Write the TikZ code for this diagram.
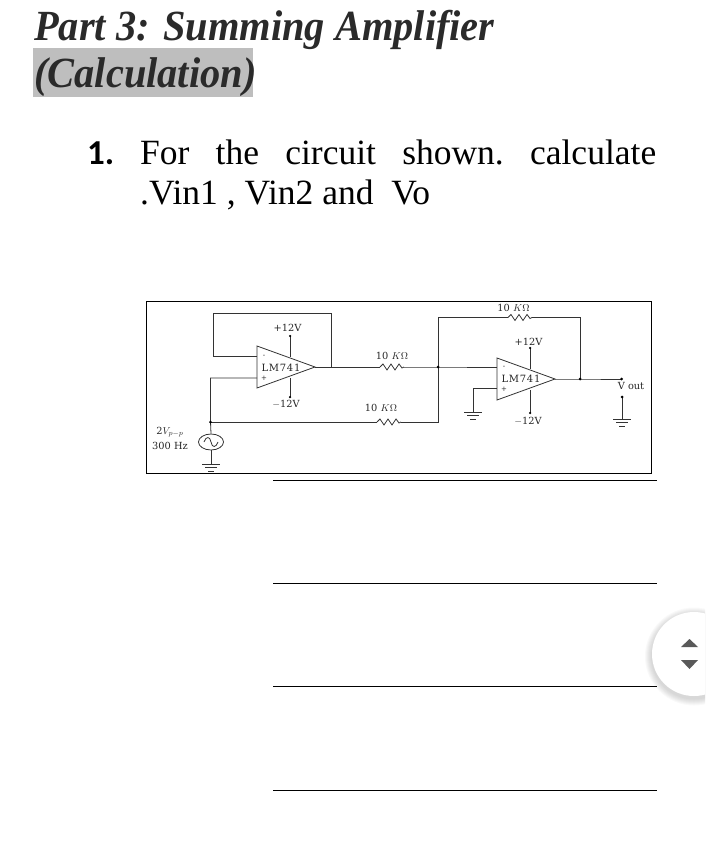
\documentclass[tikz,border=0pt]{standalone}
\usepackage{fontspec}
\setmainfont{Liberation Serif}
\newfontfamily\numfont{Carlito}
\newfontfamily\titlefont[FakeStretch=0.94]{Liberation Serif}
\newfontfamily\partfont{DejaVu Serif}
\newfontfamily\chipfont[LetterSpace=7]{DejaVu Serif}
\usetikzlibrary{shapes.geometric}
\definecolor{titlegray}{HTML}{2A2A2A}
\definecolor{markgray}{HTML}{BEBEBE}
\definecolor{wiregray}{HTML}{333333}
\tikzset{
  wire/.style={wiregray,line width=0.8pt},
  frame/.style={black,line width=1pt},
  rule/.style={black,line width=1pt},
  heading/.style={anchor=base west,inner sep=0pt,text=titlegray,font=\fontsize{43}{43}\selectfont\titlefont\bfseries\itshape},
  body/.style={anchor=base west,inner sep=0pt,font=\fontsize{35.5}{36}\selectfont},
  small/.style={inner sep=0pt,font=\fontsize{9.8}{10}\selectfont\partfont,text=black!85},
  chip/.style={inner sep=0pt,font=\fontsize{10}{10}\selectfont\chipfont,text=black!85},
  sign/.style={inner sep=0pt,font=\fontsize{7}{7}\selectfont\partfont,text=black!85},
  dot/.style={circle,fill=black,inner sep=0pt,minimum size=3pt},
  resistor/.pic={\draw[wire] (-12,0) -- (-9,-3) -- (-5,3) -- (-1,-3) -- (3,3) -- (7,-3) -- (10,1) -- (12,0);},
  earth/.pic={\draw[wire] (-9,0) -- (9,0) (-6,3.5) -- (6,3.5) (-3,7) -- (3,7);}
}
\begin{document}
\begin{tikzpicture}[x=1pt,y=-1pt]
\useasboundingbox (0,0) rectangle (705,851);
% heading
\fill[markgray] (33,48) rectangle (253,97);
\node[heading] (title1) at (34,41) {Part 3: Summing Amplifier};
\node[heading] (title2) at (34,87) {(Calculation)};
\node[anchor=base west,inner sep=0pt,font=\fontsize{35}{35}\selectfont\numfont\bfseries] (num) at (87,164) {1.};
\node[body] (line1) at (140,164) {\hbox to 516pt{For\hfill the\hfill circuit\hfill shown.\hfill calculate}};
\node[body] (line2) at (140,204) {.Vin1 , Vin2 and\ \ Vo};
% circuit frame
\draw[frame] (146,301) rectangle (651,473);
% first amplifier
\coordinate (a1top) at (257,346);
\coordinate (a1bot) at (257,388);
\coordinate (a1out) at (315,367);
\coordinate (a1minus) at (257,356);
\coordinate (a1plus) at (257,378);
\draw[wire] (a1top) -- (a1out) -- (a1bot) -- cycle;
\node[chip] (a1name) at (281,367.5) {LM741};
\node[sign] (a1m) at (264,356) {-};
\node[sign] (a1p) at (264,378) {+};
\coordinate (a1vp) at (290,336);
\coordinate (a1vpin) at (290,357);
\coordinate (a1vn) at (290,397);
\coordinate (a1vnin) at (290,378);
\draw[wire] (a1vp) -- (a1vpin);
\draw[wire] (a1vn) -- (a1vnin);
\node[dot,minimum size=2.5pt] at (a1vp) {};
\node[dot,minimum size=2.5pt] at (a1vn) {};
\node[small] (a1vptxt) at (287.5,328) {+12V};
\node[small] (a1vntxt) at (286,404) {$-$12V};
% second amplifier
\coordinate (a2top) at (497,358);
\coordinate (a2bot) at (497,400);
\coordinate (a2out) at (555,379);
\coordinate (a2minus) at (497,367);
\coordinate (a2plus) at (497,388);
\draw[wire] (a2top) -- (a2out) -- (a2bot) -- cycle;
\node[chip] (a2name) at (521,379) {LM741};
\node[sign] (a2m) at (504,367) {-};
\node[sign] (a2p) at (504,389) {+};
\coordinate (a2vp) at (530,348);
\coordinate (a2vpin) at (530,369);
\coordinate (a2vn) at (530,413);
\coordinate (a2vnin) at (530,390);
\draw[wire] (a2vp) -- (a2vpin);
\draw[wire] (a2vn) -- (a2vnin);
\node[dot,minimum size=2.5pt] at (a2vp) {};
\node[dot,minimum size=2.5pt] at (a2vn) {};
\node[small] (a2vptxt) at (528.5,342) {+12V};
\node[small] (a2vntxt) at (528,421) {$-$12V};
% wiring
\coordinate (sumdot) at (438,367);
\coordinate (srcdot) at (210.5,422);
\coordinate (outdot) at (580,379);
\coordinate (voutdot) at (621.5,379);
\coordinate (voutlow) at (622,397);
\coordinate (gndr) at (622,419);
\coordinate (gndl) at (473,412);
\coordinate (gnds) at (211,464);
\node[ellipse,draw=wiregray,line width=0.8pt,minimum width=25pt,minimum height=16pt,inner sep=0pt] (src) at (211,442) {};
\draw[wire] (a1minus) -| (213,313) -| (331,367);
\draw[wire] (a1out) -- (380,367);
\path (392,367) pic {resistor};
\draw[wire] (404,367) -- (sumdot) -- (a2minus);
\draw[wire] (a1plus) -| (srcdot) -- (src.north);
\draw[wire] (src.south) -- (gnds);
\path (gnds) pic {earth};
\draw[wire] (srcdot) -- (377,422);
\path (389,422) pic {resistor};
\draw[wire] (401,422) -| (sumdot);
\draw[wire] (sumdot) |- (508,317.5);
\path (520,317.5) pic {resistor};
\draw[wire] (532,317.5) -| (outdot);
\draw[wire] (a2out) -- (outdot) -- (voutdot);
\draw[wire] (a2plus) -| (gndl);
\path (gndl) pic {earth};
\draw[wire] (voutlow) -- (gndr);
\path (gndr) pic {earth};
\foreach \p in {sumdot,srcdot,outdot,voutdot,voutlow} \node[dot] at (\p) {};
\draw[wire] (204,442) .. controls (206,436) and (210,436) .. (211,442) .. controls (212,448) and (216,448) .. (218,442);
% labels
\node[small] (r1txt) at (392,356) {10 $K\Omega$};
\node[small] (r2txt) at (381,408) {10 $K\Omega$};
\node[small] (r3txt) at (513.5,308) {10 $K\Omega$};
\node[small] (vpp) at (170,432) {2$V_{p-p}$};
\node[small] (hz) at (170,445.5) {300 Hz};
\node[small] (vout) at (631,386) {V out};
% answer lines
\foreach \y in {480,583,686,790} \draw[rule] (273,\y) -- (657,\y);
% scroll button
\begin{scope}
\clip (625,590) rectangle (705,720);
\foreach \r in {49,48,47,46,45,44,43} \fill[black,opacity=0.025] (694,656.5) circle (\r);
\fill[white] (694,654) circle (42);
\end{scope}
\fill[black!65] (681,647) -- (698,647) -- (689.5,639) -- cycle;
\fill[black!65] (681,660) -- (698,660) -- (689.5,669) -- cycle;
\end{tikzpicture}
\end{document}
